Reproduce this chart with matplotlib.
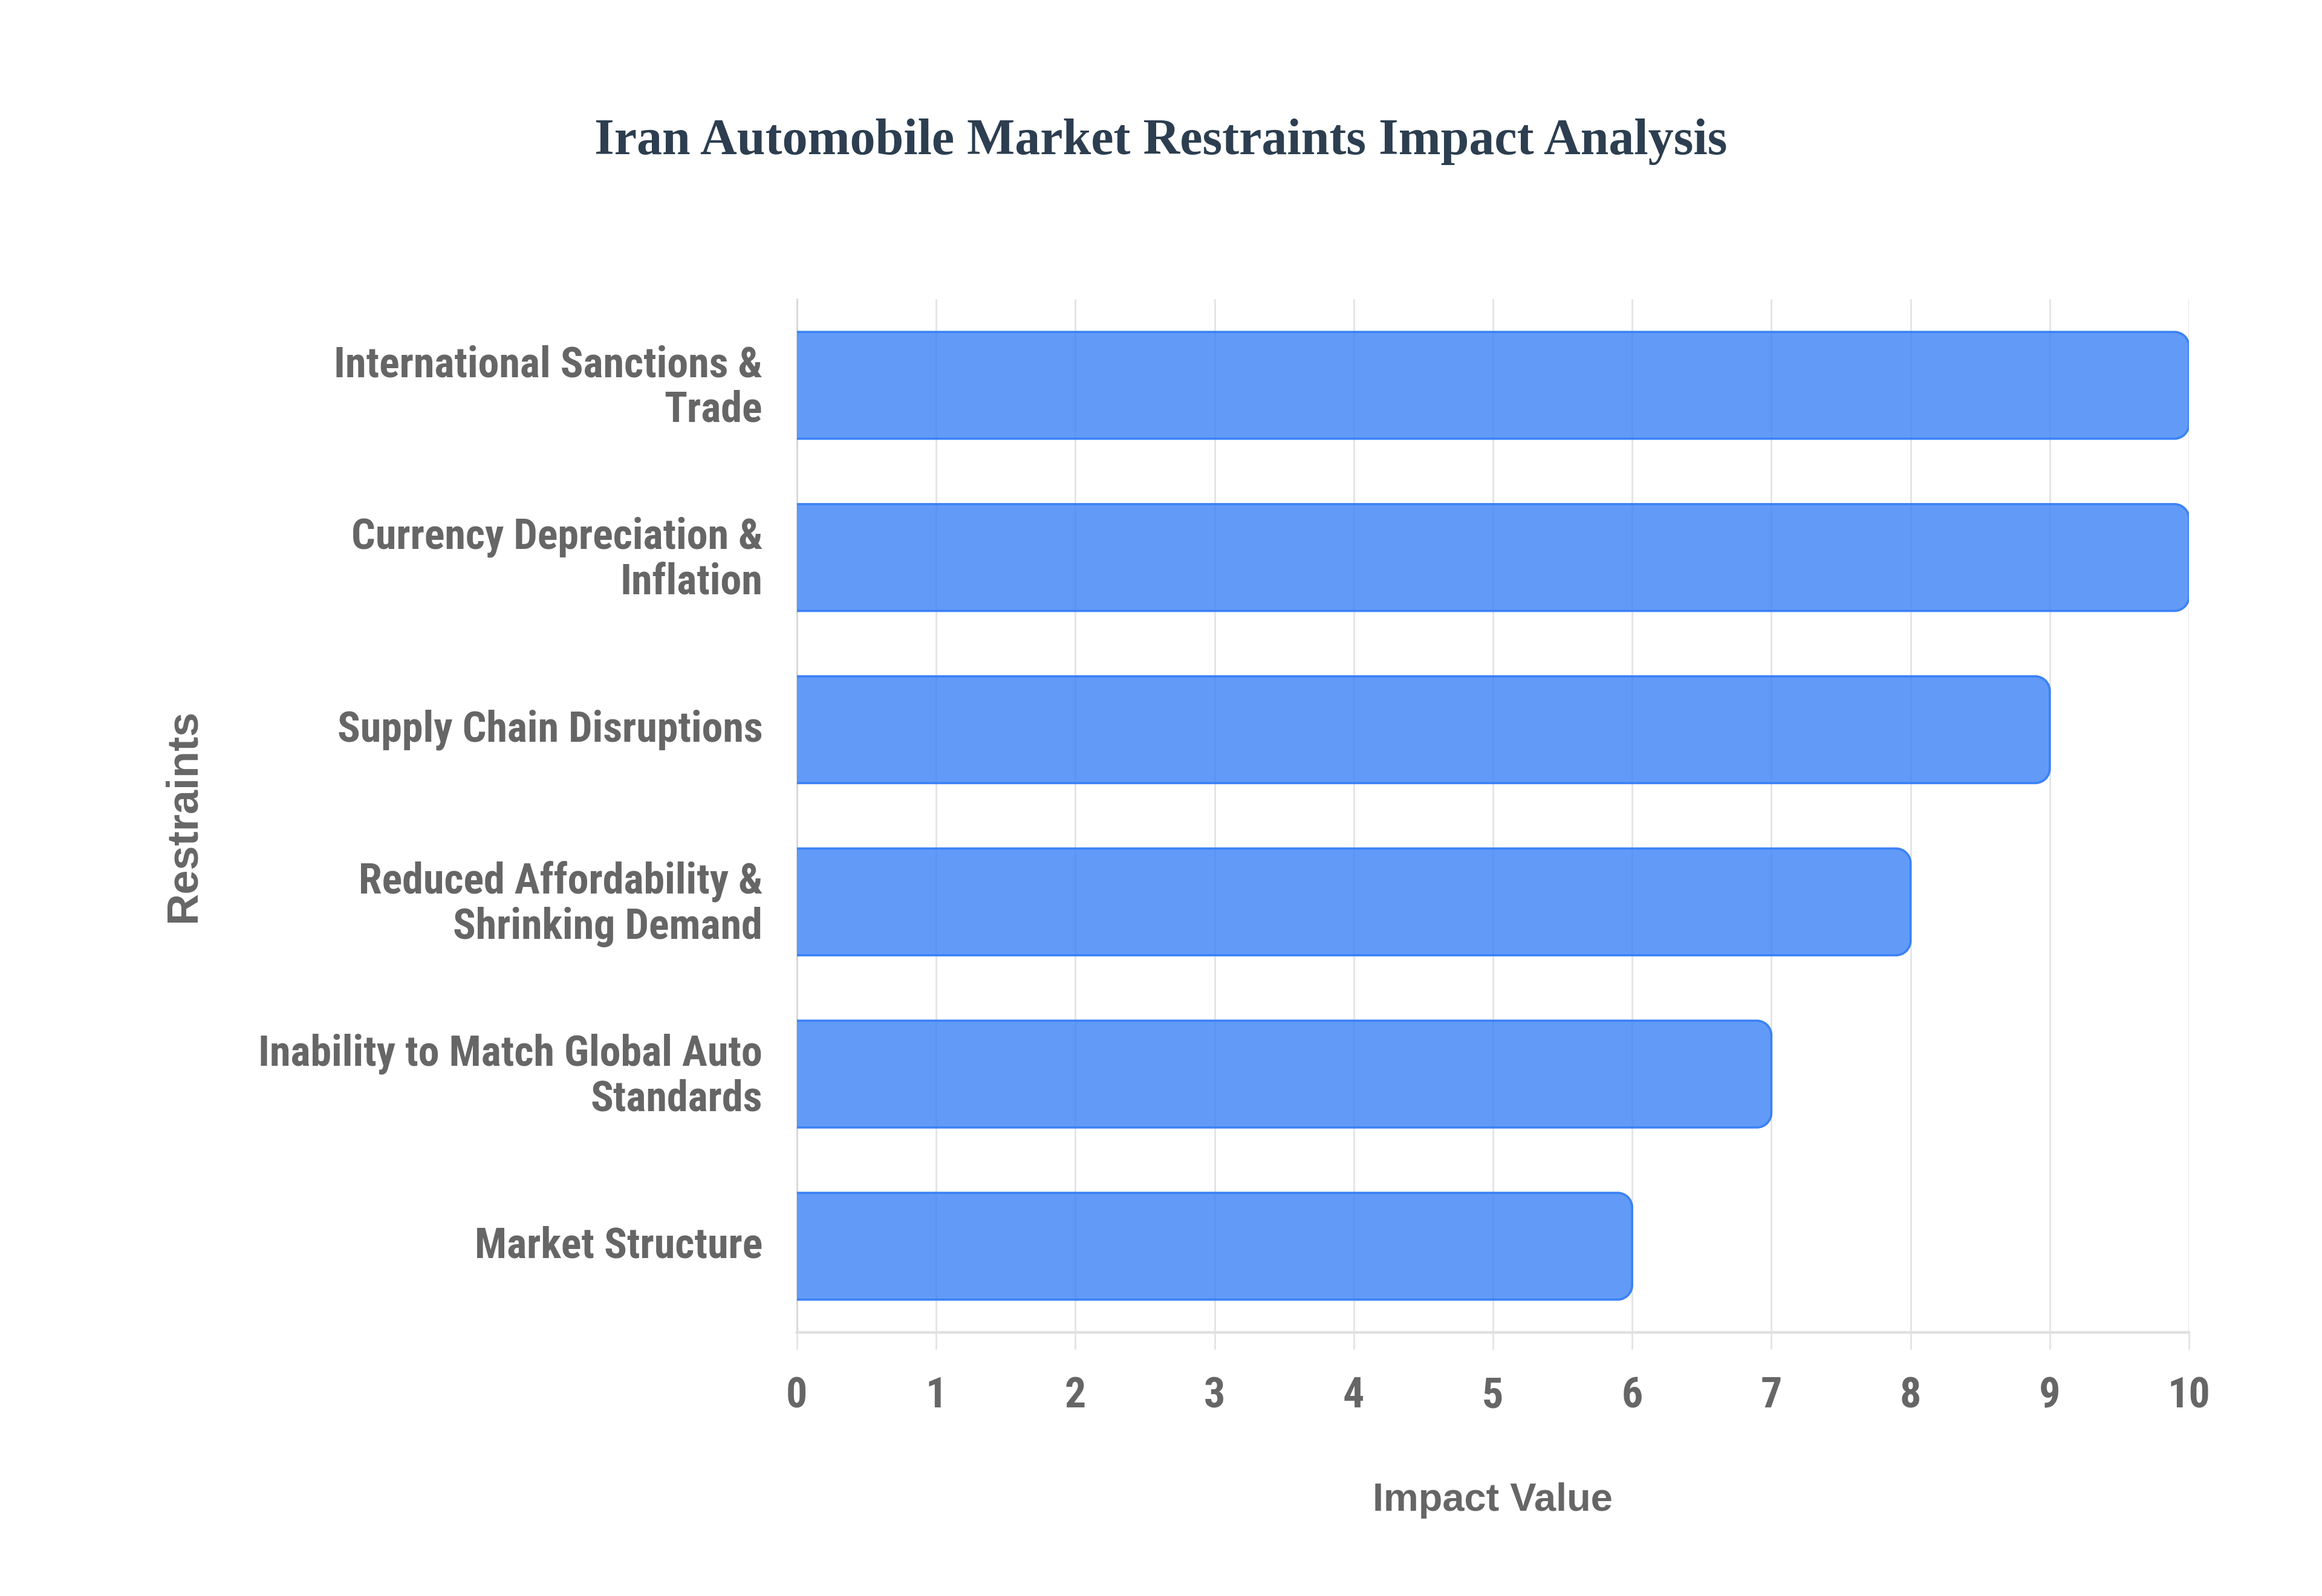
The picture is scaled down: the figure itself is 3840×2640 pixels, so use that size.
import matplotlib
matplotlib.use("Agg")
import matplotlib.pyplot as plt
from matplotlib.path import Path
from matplotlib.patches import PathPatch
from matplotlib.transforms import ScaledTranslation

categories = [
    "International Sanctions &\nTrade",
    "Currency Depreciation &\nInflation",
    "Supply Chain Disruptions",
    "Reduced Affordability &\nShrinking Demand",
    "Inability to Match Global Auto\nStandards",
    "Market Structure",
]
values = [10, 10, 9, 8, 7, 6]
x_ticks = [0, 1, 2, 3, 4, 5, 6, 7, 8, 9, 10]

title = "Iran Automobile Market Restraints Impact Analysis"
x_title = "Impact Value"
y_title = "Restraints"

TEXT = "#666666"
GRID = "#e5e5e5"
FILL = (59 / 255, 130 / 255, 246 / 255, 0.8)
EDGE = "#3b82f6"

plt.rcParams["font.family"] = ["Liberation Sans", "DejaVu Sans"]
NARROW = ["Roboto Condensed", "Liberation Sans", "DejaVu Sans"]

fig = plt.figure(figsize=(16, 11), dpi=240)
fig.patch.set_facecolor("white")
ax = fig.add_axes([0.3432, 0.1652, 0.5995, 0.6473])

ypos = list(range(len(categories)))
bars = ax.barh(ypos, values, height=0.62, color="none", edgecolor="none", zorder=3)
ax.set_xlim(0, 10)
ax.set_ylim(len(categories) - 0.5, -0.5)

# rounded right corners, computed in data units so they look circular
fig.canvas.draw()
px_per_x = ax.transData.transform((1, 0))[0] - ax.transData.transform((0, 0))[0]
px_per_y = abs(ax.transData.transform((0, 1))[1] - ax.transData.transform((0, 0))[1])
r_px = 24
rx = r_px / px_per_x
ry = r_px / px_per_y
k = 0.5523
for rect in bars:
    rect.set_visible(False)
    x0 = rect.get_x()
    x1 = x0 + rect.get_width()
    y0 = rect.get_y()
    y1 = y0 + rect.get_height()
    verts = [
        (x0, y0), (x1 - rx, y0),
        (x1 - rx + k * rx, y0), (x1, y0 + ry - k * ry), (x1, y0 + ry),
        (x1, y1 - ry),
        (x1, y1 - ry + k * ry), (x1 - rx + k * rx, y1), (x1 - rx, y1),
        (x0, y1),
    ]
    codes = [Path.MOVETO, Path.LINETO,
             Path.CURVE4, Path.CURVE4, Path.CURVE4,
             Path.LINETO,
             Path.CURVE4, Path.CURVE4, Path.CURVE4,
             Path.LINETO]
    fill_path = Path(verts + [(x0, y0)], codes + [Path.CLOSEPOLY])
    ax.add_patch(PathPatch(fill_path, facecolor=FILL, edgecolor="none", zorder=3))
    ax.add_patch(PathPatch(Path(verts, codes), facecolor="none", edgecolor=EDGE,
                           linewidth=1.1, zorder=4))

ax.set_yticks(ypos)
ax.set_yticklabels(categories, fontsize=21, fontweight="bold", color=TEXT,
                   linespacing=1.14, family=NARROW)
ax.set_xticks(x_ticks)
ax.set_xticklabels([str(t) for t in x_ticks], fontsize=21, fontweight="bold",
                   color=TEXT, family=NARROW)
ax.tick_params(axis="y", length=0, pad=17)
ax.tick_params(axis="x", length=8.4, width=0.9, color=GRID, pad=13)

# nudge category labels up slightly
shift = ScaledTranslation(0, 0.03, fig.dpi_scale_trans)
for lab in ax.get_yticklabels():
    lab.set_transform(lab.get_transform() + shift)

ax.grid(axis="x", color=GRID, linewidth=0.9, zorder=0)
ax.set_axisbelow(True)
for s in ["top", "right"]:
    ax.spines[s].set_visible(False)
ax.spines["left"].set_color("#d9d9d9")
ax.spines["left"].set_linewidth(0.9)
ax.spines["bottom"].set_color("#e0e0e0")
ax.spines["bottom"].set_linewidth(1.3)

ax.set_xlabel(x_title, fontsize=19.5, fontweight="bold", color=TEXT)
ax.xaxis.set_label_coords(0.5, -0.145)
ax.set_ylabel(y_title, fontsize=21.7, fontweight="bold", color=TEXT)
ax.yaxis.set_label_coords(-0.426, 0.5)

fig.text(0.5, 0.9034, title, ha="center", va="baseline", fontsize=25.2,
         fontweight="bold", color="#2c3e50",
         family=["Liberation Serif", "DejaVu Serif"])

fig.savefig("out.png", dpi=240, facecolor="white")
